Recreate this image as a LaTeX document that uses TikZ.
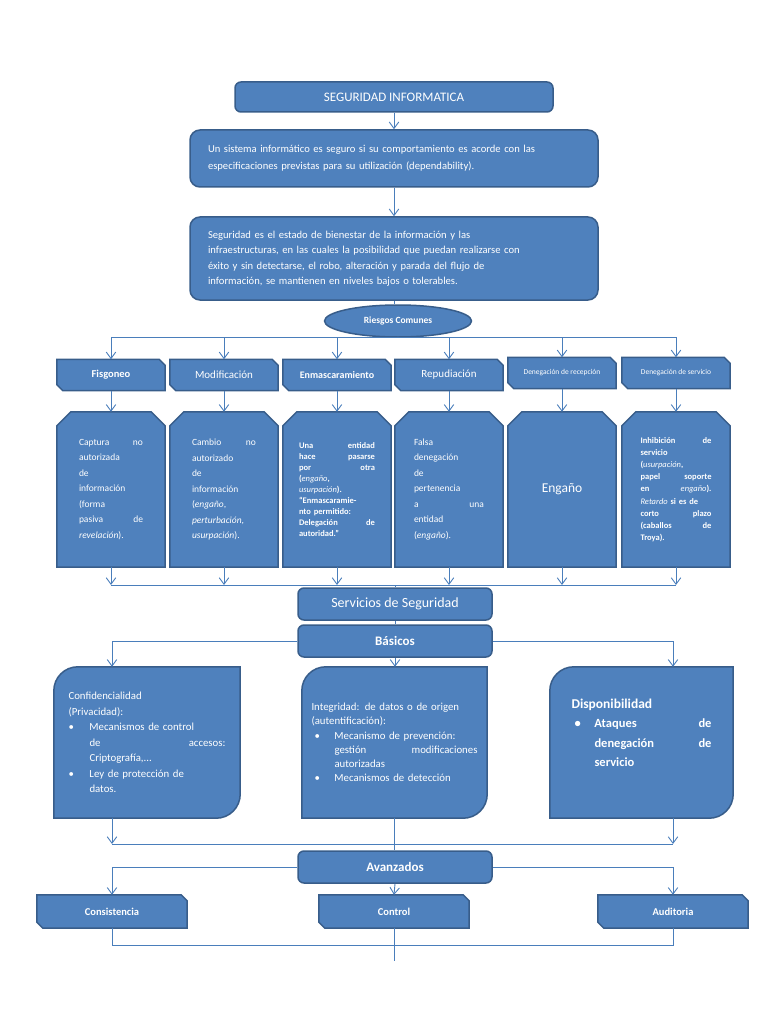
\documentclass[tikz,border=0pt]{standalone}
\usepackage{fontspec}
\setmainfont{Carlito}
\usetikzlibrary{arrows.meta,shapes.geometric,backgrounds}
\definecolor{boxblue}{HTML}{4F81BD}
\definecolor{edgeblue}{HTML}{385D8A}
\definecolor{linkblue}{HTML}{4A7EBB}

\begin{document}
\begin{tikzpicture}[x=1pt, y=1pt,
	boxfill/.style={fill=boxblue, draw=edgeblue, line width=1.5pt},
	rbox/.style={boxfill, rounded corners=6pt, text=white, inner sep=0pt, minimum width=194pt, minimum height=32pt},
	lbl/.style={text=white, inner sep=0pt, align=left},
	hdr/.style={lbl, minimum width=108pt, minimum height=31pt},
	cnt/.style={lbl, minimum width=108pt, minimum height=155pt},
	dbox/.style={lbl, minimum height=151pt},
	link/.style={draw=linkblue, line width=0.9pt},
	arr/.style={link, -{Straight Barb[length=6.5pt, width=9.5pt]}}]
	
	\useasboundingbox (0, 0) rectangle (768, -1024);
	
	\node[rbox, minimum width=318pt, minimum height=30pt, font=\fontsize{13}{15}\selectfont] (titulo) at (394, -97) {SEGURIDAD INFORMATICA};
	\node[rbox, rounded corners=10pt, minimum width=408pt, minimum height=57pt, text width=372pt, align=left, font=\fontsize{10.6}{17}\selectfont] (def) at (394, -158.5) {Un sistema informático es seguro si su comportamiento es acorde con las\\ especificaciones previstas para su utilización (dependability).};
	\node[rbox, rounded corners=10pt, minimum width=408pt, minimum height=83pt, text width=372pt, align=left, font=\fontsize{10.6}{15.5}\selectfont] (seg) at (394, -258.5) {Seguridad es el estado de bienestar de la información y las\\ infraestructuras, en las cuales la posibilidad que puedan realizarse con\\ éxito y sin detectarse, el robo, alteración y parada del flujo de\\ información, se mantienen en niveles bajos o tolerables.};
	\node[boxfill, ellipse, minimum width=147pt, minimum height=32pt, inner sep=0pt, text=white, font=\fontsize{9.5}{11}\selectfont] (ries) at (398, -321) {\textbf{Riesgos Comunes}};
	
	\node[hdr, font=\fontsize{10.5}{12}\selectfont] (fis) at (111, -375) {\textbf{Fisgoneo}};
	\node[hdr, font=\fontsize{11}{12}\selectfont] (mod) at (224, -375) {Modificación};
	\node[hdr, font=\fontsize{10}{11}\selectfont] (enm) at (337, -375) {\textbf{Enmascaramiento}};
	\node[hdr, font=\fontsize{11}{12}\selectfont] (rep) at (449, -375) {Repudiación};
	\node[hdr, font=\fontsize{7.5}{8}\selectfont] (drec) at (562, -373) {Denegación de recepción};
	\node[hdr, font=\fontsize{7.5}{8}\selectfont] (dser) at (676, -373) {Denegación de servicio};
	
	\node[cnt, text width=64pt, font=\fontsize{9.5}{15.5}\selectfont] (cfis) at (111, -489.5) {Captura \hfill no\\ autorizada\\ de\\ información\\ (forma\\ pasiva \hfill de\\ \textit{revelación}).};
	\node[cnt, text width=64pt, font=\fontsize{9.5}{15.5}\selectfont] (cmod) at (224, -489.5) {Cambio \hfill no\\ autorizado\\ de\\ información\\ (\textit{engaño},\\ \textit{perturbación},\\ \textit{usurpación}).};
	\node[cnt, text width=76pt, font=\fontsize{8.5}{11}\selectfont] (cenm) at (337, -489.5) {\textbf{Una \hfill entidad\\ hace \hfill pasarse\\ por \hfill otra\\ ({\mdseries\itshape engaño},\\ {\mdseries\itshape usurpación}).\\ “Enmascaramie-\\ nto permitido:\\ Delegación \hfill de\\ autoridad.”}};
	\node[cnt, text width=70pt, font=\fontsize{9.5}{15.5}\selectfont] (crep) at (449, -489.5) {Falsa\\ denegación\\ de\\ pertenencia\\ a \hfill una\\ entidad\\ (\textit{engaño}).};
	\node[cnt, font=\fontsize{13.5}{16}\selectfont] (cdrec) at (562, -489.5) {Engaño};
	\node[cnt, text width=71pt, font=\fontsize{8.5}{12.2}\selectfont] (cdser) at (676, -489.5) {\textbf{Inhibición \hfill de\\ servicio\\ ({\mdseries\itshape usurpación},\\ papel \hfill soporte\\ en \hfill {\mdseries\itshape engaño}).\\ {\mdseries\itshape Retardo} si es de\\ corto \hfill plazo\\ (caballos \hfill de\\ Troya).}};
	
	\node[rbox, font=\fontsize{14}{16}\selectfont] (serv) at (395, -604) {Servicios de Seguridad};
	\node[rbox, font=\fontsize{13}{15}\selectfont] (bas) at (395, -641) {\textbf{Básicos}};
	
	\node[dbox, minimum width=186pt, text width=157pt, font=\fontsize{10.8}{15.5}\selectfont] (conf) at (147, -742.5) {Confidencialidad\\ (Privacidad):\\ \makebox[21pt][l]{\textbullet}Mecanismos de control\\ \hspace*{21pt}de \hfill accesos:\\ \hspace*{21pt}Criptografía,...\\ \makebox[21pt][l]{\textbullet}Ley de protección de\\ \hspace*{21pt}datos.};
	\node[dbox, minimum width=185pt, text width=166pt, font=\fontsize{10.8}{14.2}\selectfont] (integ) at (394.5, -742.5) {Integridad: de datos o de origen\\ (autentificación):\\ \hspace*{3pt}\makebox[20pt][l]{\textbullet}Mecanismo de prevención:\\ \hspace*{23pt}gestión \hfill modificaciones\\ \hspace*{23pt}autorizadas\\ \hspace*{3pt}\makebox[20pt][l]{\textbullet}Mecanismos de detección};
	\node[dbox, minimum width=183pt, text width=140pt, font=\fontsize{12.5}{19.5}\selectfont] (disp) at (641.5, -742.5) {\textbf{{\fontsize{13.5}{19.5}\selectfont Disponibilidad}\\ \hspace*{3pt}\makebox[20pt][l]{\textbullet}Ataques \hfill de\\ \hspace*{23pt}denegación \hfill de\\ \hspace*{23pt}servicio}\\ \mbox{}};
	
	\node[rbox, font=\fontsize{13}{15}\selectfont] (avz) at (395, -867) {\textbf{Avanzados}};
	\node[hdr, minimum width=150pt, minimum height=33pt, font=\fontsize{10.5}{12}\selectfont] (cons) at (112, -911.5) {\textbf{Consistencia}};
	\node[hdr, minimum width=150pt, minimum height=33pt, font=\fontsize{10.5}{12}\selectfont] (ctrl) at (394, -911.5) {\textbf{Control}};
	\node[hdr, minimum width=150pt, minimum height=33pt, font=\fontsize{10.5}{12}\selectfont] (aud) at (673, -911.5) {\textbf{Auditoria}};
	
	\begin{scope}[on background layer]
		\foreach \n in {fis,mod,enm,rep,drec,dser,cons,ctrl,aud}
			\draw[boxfill] (\n.north west) -- ([xshift=-6pt]\n.north east) -- ([yshift=-6pt]\n.north east) -- (\n.south east) -- ([xshift=6pt]\n.south west) -- ([yshift=6pt]\n.south west) -- cycle;
		\foreach \n in {cfis,cmod,cenm,crep,cdrec,cdser}
			\draw[boxfill] ([yshift=-14pt]\n.north west) -- ([xshift=14pt]\n.north west) -- ([xshift=-14pt]\n.north east) -- ([yshift=-14pt]\n.north east) -- (\n.south east) -- (\n.south west) -- cycle;
		\foreach \n in {conf,integ,disp}
			\draw[boxfill] (\n.south west) -- ([yshift=-24pt]\n.north west) arc[start angle=180, end angle=90, radius=24pt] -- (\n.north east) -- ([yshift=24pt]\n.south east) arc[start angle=0, end angle=-90, radius=24pt] -- cycle;
	\end{scope}
	
	\coordinate (rL) at (111, -337);
	\coordinate (rR) at (676, -337);
	\coordinate (sL) at (111, -585);
	\coordinate (sR) at (676, -585);
	\coordinate (colL) at (112, 0);
	\coordinate (colR) at (673, 0);
	\coordinate (aL) at (112, -844);
	\coordinate (aR) at (673, -844);
	\coordinate (bL) at (112, -945);
	\coordinate (bR) at (673, -945);
	\coordinate (fin) at (394, -961);
	
	\draw[arr] (titulo.south) -- (def.north);
	\draw[arr] (def.south) -- (seg.north);
	\draw[link] (seg.south) -- (seg.south |- ries.north);
	\draw[link] (rL) -- (rR);
	\foreach \n in {fis,mod,enm,rep,drec,dser} {
		\draw[arr] (\n.north |- rL) -- (\n.north);
		\draw[arr] (\n.south) -- (c\n.north);
		\draw[arr] (c\n.south) -- (c\n.south |- sL);
	}
	\draw[link] (sL) -- (sR);
	\draw[link] (serv.north |- sL) -- (serv.north);
	\draw[link] (serv.south) -- (bas.north);
	
	\draw[arr] (bas.west) -| (colL |- conf.north);
	\draw[arr] (bas.east) -| (colR |- disp.north);
	\draw[arr] (bas.south) -- (bas.south |- integ.north);
	\draw[arr] (colL |- conf.south) -- (aL);
	\draw[arr] (colR |- disp.south) -- (aR);
	\draw[link] (aL) -- (aR);
	\draw[link] (integ.south) -- (integ.south |- avz.north);
	
	\draw[arr] (avz.west) -| (cons.north);
	\draw[arr] (avz.east) -| (aud.north);
	\draw[arr] (avz.south) -- (ctrl.north);
	\draw[link] (cons.south) -- (bL) -- (bR) -- (aud.south);
	\draw[link] (ctrl.south) -- (fin);
	
\end{tikzpicture}
\end{document}
